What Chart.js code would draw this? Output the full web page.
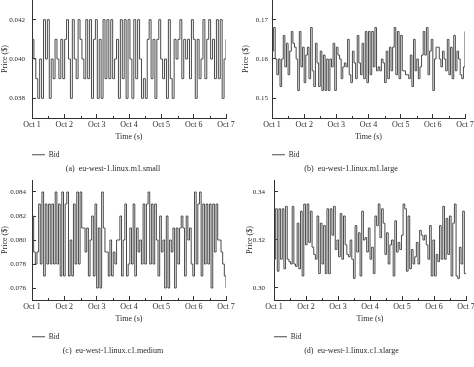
<!DOCTYPE html>
<html>
<head>
<meta charset="utf-8">
<script src="https://cdn.jsdelivr.net/npm/chart.js@4"></script>
<style>
    html, body { margin: 0; padding: 0; background: #fff; }
    #wrap { position: relative; width: 474px; height: 367px; overflow: hidden; }
    canvas { position: absolute; display: block; }
</style>
</head>
<body>
<div id="wrap">
    <canvas id="pa" width="237" height="180" style="left:0;top:0"></canvas>
    <canvas id="pb" width="237" height="180" style="left:237px;top:0"></canvas>
    <canvas id="pc" width="237" height="191" style="left:0;top:176px"></canvas>
    <canvas id="pd" width="237" height="191" style="left:237px;top:176px"></canvas>
</div>
<script>
// days since Oct 1, one label per day
const X_LABELS = ["Oct 1", "Oct 2", "Oct 3", "Oct 4", "Oct 5", "Oct 6", "Oct 7"];
const X_MINOR = [0.5, 1.5, 2.5, 3.5, 4.5, 5.5];

// bid price at even time steps across Oct 1 .. Oct 7
const aBid = [0.041, 0.040, 0.039, 0.038, 0.040, 0.038, 0.042, 0.040, 0.042, 0.038,
    0.040, 0.039, 0.041, 0.040, 0.039, 0.041, 0.039, 0.041, 0.042, 0.040,
    0.038, 0.042, 0.040, 0.039, 0.042, 0.041, 0.040, 0.039, 0.042, 0.039,
    0.042, 0.038, 0.041, 0.042, 0.038, 0.041, 0.038, 0.042, 0.039, 0.042,
    0.039, 0.042, 0.039, 0.040, 0.041, 0.038, 0.042, 0.039, 0.042, 0.038,
    0.042, 0.040, 0.038, 0.042, 0.039, 0.042, 0.040, 0.038, 0.039, 0.038,
    0.041, 0.042, 0.039, 0.041, 0.038, 0.041, 0.042, 0.040, 0.039, 0.040,
    0.038, 0.042, 0.039, 0.038, 0.041, 0.040, 0.041, 0.042, 0.039, 0.041,
    0.040, 0.041, 0.039, 0.042, 0.041, 0.038, 0.041, 0.039, 0.040, 0.042,
    0.039, 0.041, 0.042, 0.040, 0.041, 0.039, 0.042, 0.039, 0.042, 0.038,
    0.040, 0.041];
const bBid = [0.162, 0.168, 0.160, 0.156, 0.160, 0.153, 0.160, 0.166, 0.158, 0.164,
    0.156, 0.162, 0.167, 0.164, 0.163, 0.160, 0.152, 0.167, 0.158, 0.163,
    0.154, 0.161, 0.163, 0.155, 0.168, 0.157, 0.153, 0.164, 0.159, 0.153,
    0.162, 0.152, 0.161, 0.152, 0.160, 0.152, 0.160, 0.158, 0.164, 0.152,
    0.163, 0.161, 0.160, 0.155, 0.158, 0.159, 0.158, 0.165, 0.156, 0.154,
    0.162, 0.159, 0.155, 0.166, 0.159, 0.156, 0.164, 0.155, 0.167, 0.154,
    0.167, 0.156, 0.167, 0.158, 0.168, 0.157, 0.158, 0.157, 0.160, 0.159,
    0.154, 0.162, 0.155, 0.163, 0.157, 0.163, 0.168, 0.156, 0.167, 0.155,
    0.166, 0.157, 0.157, 0.156, 0.156, 0.155, 0.161, 0.153, 0.165, 0.157,
    0.160, 0.155, 0.158, 0.161, 0.167, 0.161, 0.168, 0.156, 0.162, 0.165,
    0.152, 0.160, 0.163, 0.163, 0.160, 0.158, 0.162, 0.160, 0.157, 0.165,
    0.156, 0.163, 0.155, 0.166, 0.157, 0.162, 0.160, 0.156, 0.155, 0.158,
    0.167];
const cBid = [0.082, 0.079, 0.078, 0.079, 0.083, 0.078, 0.084, 0.077, 0.083, 0.078,
    0.083, 0.078, 0.083, 0.078, 0.084, 0.078, 0.083, 0.077, 0.084, 0.077,
    0.083, 0.084, 0.077, 0.080, 0.077, 0.083, 0.078, 0.084, 0.078, 0.084,
    0.081, 0.081, 0.079, 0.081, 0.077, 0.080, 0.082, 0.077, 0.083, 0.076,
    0.081, 0.076, 0.084, 0.081, 0.079, 0.079, 0.077, 0.080, 0.077, 0.079,
    0.078, 0.080, 0.080, 0.082, 0.077, 0.080, 0.083, 0.077, 0.078, 0.081,
    0.078, 0.083, 0.077, 0.081, 0.079, 0.080, 0.078, 0.083, 0.078, 0.083,
    0.084, 0.078, 0.083, 0.078, 0.083, 0.080, 0.077, 0.082, 0.079, 0.080,
    0.076, 0.082, 0.076, 0.080, 0.079, 0.081, 0.076, 0.081, 0.078, 0.081,
    0.082, 0.081, 0.077, 0.082, 0.080, 0.081, 0.078, 0.077, 0.084, 0.078,
    0.083, 0.084, 0.077, 0.083, 0.078, 0.083, 0.078, 0.083, 0.076, 0.083,
    0.079, 0.083, 0.080, 0.080, 0.079, 0.078, 0.077, 0.076];
const dBid = [0.312, 0.333, 0.307, 0.333, 0.312, 0.333, 0.308, 0.334, 0.312, 0.311,
    0.310, 0.334, 0.310, 0.309, 0.327, 0.308, 0.332, 0.305, 0.335, 0.318,
    0.335, 0.319, 0.332, 0.317, 0.314, 0.312, 0.330, 0.306, 0.327, 0.310,
    0.326, 0.306, 0.333, 0.306, 0.333, 0.322, 0.334, 0.316, 0.320, 0.313,
    0.331, 0.312, 0.330, 0.318, 0.314, 0.313, 0.320, 0.312, 0.304, 0.326,
    0.315, 0.323, 0.305, 0.332, 0.320, 0.321, 0.315, 0.325, 0.312, 0.317,
    0.306, 0.330, 0.326, 0.335, 0.321, 0.333, 0.327, 0.314, 0.323, 0.310,
    0.318, 0.320, 0.305, 0.328, 0.315, 0.319, 0.316, 0.322, 0.335, 0.333,
    0.307, 0.330, 0.308, 0.316, 0.310, 0.313, 0.319, 0.310, 0.324, 0.322,
    0.320, 0.322, 0.318, 0.312, 0.326, 0.305, 0.320, 0.305, 0.314, 0.311,
    0.326, 0.312, 0.334, 0.312, 0.329, 0.314, 0.330, 0.305, 0.327, 0.335,
    0.305, 0.304, 0.317, 0.310, 0.332, 0.306, 0.306];

const aYTicks = [0.038, 0.040, 0.042];
const bYTicks = [0.15, 0.16, 0.17];
const cYTicks = [0.076, 0.078, 0.080, 0.082, 0.084];
const dYTicks = [0.30, 0.32, 0.34];

const SERIF = "'Liberation Serif', 'DejaVu Serif', serif";
const INK = "#2a2a2a";
const AXIS = "#333";
const LINE = "#4a4a4a";

// short unlabeled ticks at midday, drawn on the x scale
const minorTicks = {
    id: "minorTicks",
    afterDraw(chart) {
        const sx = chart.scales.x;
        const bottom = chart.chartArea.bottom;
        const ctx = chart.ctx;
        ctx.save();
        ctx.strokeStyle = AXIS;
        ctx.lineWidth = 1;
        ctx.beginPath();
        X_MINOR.forEach(v => {
            const px = Math.round(sx.getPixelForValue(v)) + 0.5;
            ctx.moveTo(px, bottom);
            ctx.lineTo(px, bottom - 2);
        });
        ctx.stroke();
        ctx.restore();
    }
};

function makePanel(id, bid, yTicks, yMin, yMax, digits, caption, g) {
    const n = bid.length;
    const points = bid.map((v, i) => ({ x: i * (X_LABELS.length - 1) / (n - 1), y: v }));
    new Chart(document.getElementById(id), {
        type: "line",
        data: {
            datasets: [{
                label: "Bid",
                data: points,
                stepped: true,
                borderColor: LINE,
                borderWidth: 1,
                pointRadius: 0,
                fill: false
            }]
        },
        options: {
            responsive: false,
            animation: false,
            devicePixelRatio: 1,
            events: [],
            layout: { padding: { left: 0, right: g.right, top: g.top, bottom: g.bottom } },
            scales: {
                x: {
                    type: "linear",
                    min: 0,
                    max: X_LABELS.length - 1,
                    afterBuildTicks: s => { s.ticks = X_LABELS.map((_, i) => ({ value: i })); },
                    afterFit: s => { s.height = 33; s.paddingLeft = 0; s.paddingRight = 0; },
                    ticks: {
                        callback: (v, i) => X_LABELS[i],
                        autoSkip: false, maxRotation: 0, padding: 6,
                        color: INK, font: { family: SERIF, size: 8 }
                    },
                    grid: { drawOnChartArea: false, tickLength: -4, color: AXIS },
                    border: { color: AXIS },
                    title: {
                        display: true, text: "Time (s)", color: INK,
                        font: { family: SERIF, size: 8 }, padding: { top: 0, bottom: 9.2 }
                    }
                },
                y: {
                    min: yMin,
                    max: yMax,
                    afterBuildTicks: s => { s.ticks = yTicks.map(v => ({ value: v })); },
                    afterFit: s => { s.width = g.yWidth; s.paddingTop = 0; s.paddingBottom = 0; },
                    ticks: {
                        callback: v => v.toFixed(digits),
                        padding: g.tickPad,
                        color: INK, font: { family: SERIF, size: 7 }
                    },
                    grid: { drawOnChartArea: false, tickLength: -4, color: AXIS },
                    border: { color: AXIS },
                    title: {
                        display: true, text: "Price ($)", color: INK,
                        font: { family: SERIF, size: 8 }, padding: { top: g.titlePad, bottom: 0 }
                    }
                }
            },
            plugins: {
                tooltip: { enabled: false },
                legend: {
                    position: "bottom",
                    align: "start",
                    fullSize: false,
                    maxHeight: 10,
                    labels: {
                        usePointStyle: true, pointStyle: "line", pointStyleWidth: 13,
                        padding: 0, color: INK, font: { family: SERIF, size: 7.5 }
                    }
                },
                title: {
                    display: true,
                    position: "bottom",
                    text: caption,
                    color: INK,
                    font: { family: SERIF, size: 8, weight: "normal" },
                    padding: { top: 3, bottom: 0 }
                }
            }
        },
        plugins: [minorTicks]
    });
}

makePanel("pa", aBid, aYTicks, 0.037, 0.043, 3, "(a)  eu-west-1.linux.m1.small",
    { yWidth: 32, right: 11, top: 0, bottom: 6.4, tickPad: 11, titlePad: 0 });
makePanel("pb", bBid, bYTicks, 0.145, 0.175, 2, "(b)  eu-west-1.linux.m1.large",
    { yWidth: 35, right: 9, top: 0, bottom: 6.4, tickPad: 8, titlePad: 4.5 });
makePanel("pc", cBid, cYTicks, 0.075, 0.085, 3, "(c)  eu-west-1.linux.c1.medium",
    { yWidth: 32, right: 11, top: 4, bottom: 11.4, tickPad: 10, titlePad: 0 });
makePanel("pd", dBid, dYTicks, 0.295, 0.345, 2, "(d)  eu-west-1.linux.c1.xlarge",
    { yWidth: 37, right: 8, top: 4, bottom: 11.4, tickPad: 13, titlePad: 7.7 });
</script>
</body>
</html>
